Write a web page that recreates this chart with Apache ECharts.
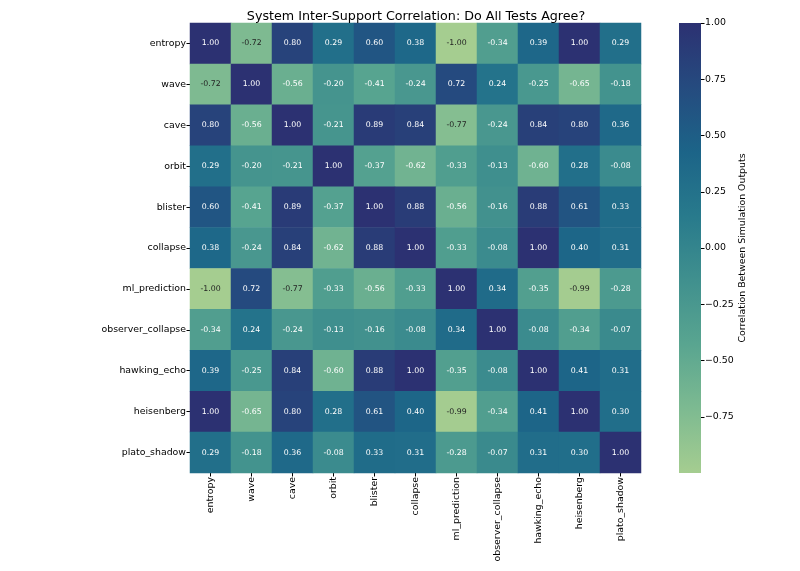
<!DOCTYPE html>
<html><head><meta charset="utf-8">
<script src="https://cdn.jsdelivr.net/npm/echarts@6/dist/echarts.min.js"></script>
<style>html,body{margin:0;padding:0;background:#fff}#c{width:800px;height:571px}</style>
</head><body><div id="c"></div>
<script>
const labels = ['entropy','wave','cave','orbit','blister','collapse','ml_prediction','observer_collapse','hawking_echo','heisenberg','plato_shadow'];
const r_entropy = [1.00,-0.72,0.80,0.29,0.60,0.38,-1.00,-0.34,0.39,1.00,0.29];
const r_wave = [-0.72,1.00,-0.56,-0.20,-0.41,-0.24,0.72,0.24,-0.25,-0.65,-0.18];
const r_cave = [0.80,-0.56,1.00,-0.21,0.89,0.84,-0.77,-0.24,0.84,0.80,0.36];
const r_orbit = [0.29,-0.20,-0.21,1.00,-0.37,-0.62,-0.33,-0.13,-0.60,0.28,-0.08];
const r_blister = [0.60,-0.41,0.89,-0.37,1.00,0.88,-0.56,-0.16,0.88,0.61,0.33];
const r_collapse = [0.38,-0.24,0.84,-0.62,0.88,1.00,-0.33,-0.08,1.00,0.40,0.31];
const r_ml = [-1.00,0.72,-0.77,-0.33,-0.56,-0.33,1.00,0.34,-0.35,-0.99,-0.28];
const r_observer = [-0.34,0.24,-0.24,-0.13,-0.16,-0.08,0.34,1.00,-0.08,-0.34,-0.07];
const r_hawking = [0.39,-0.25,0.84,-0.60,0.88,1.00,-0.35,-0.08,1.00,0.41,0.31];
const r_heisenberg = [1.00,-0.65,0.80,0.28,0.61,0.40,-0.99,-0.34,0.41,1.00,0.30];
const r_plato = [0.29,-0.18,0.36,-0.08,0.33,0.31,-0.28,-0.07,0.31,0.30,1.00];
const rows = [r_entropy,r_wave,r_cave,r_orbit,r_blister,r_collapse,r_ml,r_observer,r_hawking,r_heisenberg,r_plato];
const cbTicks = [-0.75,-0.5,-0.25,0,0.25,0.5,0.75,1.0];

const crest = ['#a5cd90','#7dba91','#59a590','#40908e','#287a8c','#1c6488','#254b7f','#2c3172'];
const data = [];
rows.forEach((row,i)=>row.forEach((v,j)=>data.push({value:[j,i,v],label:{color:v<-0.68?'#222':'#fff'}})));
const F = 'DejaVu Sans';
const FS = 9.4;
const chart = echarts.init(document.getElementById('c'));
chart.setOption({
  animation:false,
  textStyle:{fontFamily:F},
  title:{text:'System Inter-Support Correlation: Do All Tests Agree?',left:411,top:5,textAlign:'center',
    textStyle:{fontFamily:F,fontSize:12.7,fontWeight:'normal',color:'#000'}},
  grid:[{left:190,top:23,width:451,height:450,outerBoundsMode:'none',containLabel:false},
        {left:679,top:23,width:22,height:450,show:true,borderWidth:0,outerBoundsMode:'none',containLabel:false,
         backgroundColor:{type:'linear',x:0,y:1,x2:0,y2:0,colorStops:crest.map((c,k)=>({offset:k/(crest.length-1),color:c}))}}],
  xAxis:[{type:'category',data:labels,gridIndex:0,axisLine:{show:false},
          axisTick:{show:true,alignWithLabel:true,length:3.5,lineStyle:{color:'#000'}},splitLine:{show:false},
          axisLabel:{rotate:90,fontFamily:F,fontSize:FS,color:'#000',margin:4,interval:0}},
         {type:'category',data:[''],gridIndex:1,show:false}],
  yAxis:[{type:'category',data:labels,inverse:true,gridIndex:0,axisLine:{show:false},
          axisTick:{show:true,alignWithLabel:true,length:3.5,lineStyle:{color:'#000'}},splitLine:{show:false},
          axisLabel:{fontFamily:F,fontSize:FS,color:'#000',margin:4,interval:0}},
         {type:'value',gridIndex:1,min:-1,max:1,position:'right',
          axisLine:{show:false},splitLine:{show:false},
          axisTick:{show:true,length:3.5,customValues:cbTicks,lineStyle:{color:'#000'}},
          axisLabel:{customValues:cbTicks,fontFamily:F,fontSize:FS,color:'#000',margin:4,
            formatter:v=>(v<0?'\u2212':'')+Math.abs(v).toFixed(2)},
          name:'Correlation Between Simulation Outputs',nameLocation:'middle',nameGap:37,nameRotate:90,
          nameTextStyle:{fontFamily:F,fontSize:FS,color:'#000'}}],
  visualMap:{show:false,min:-1,max:1,seriesIndex:0,inRange:{color:crest}},
  series:[{type:'heatmap',xAxisIndex:0,yAxisIndex:0,data:data,
    label:{show:true,fontFamily:F,fontSize:7.8,
      formatter:p=>{const v=p.value[2];return (v<0?'-':'')+Math.abs(v).toFixed(2);}},
    itemStyle:{borderWidth:0}}]
});
</script></body></html>
